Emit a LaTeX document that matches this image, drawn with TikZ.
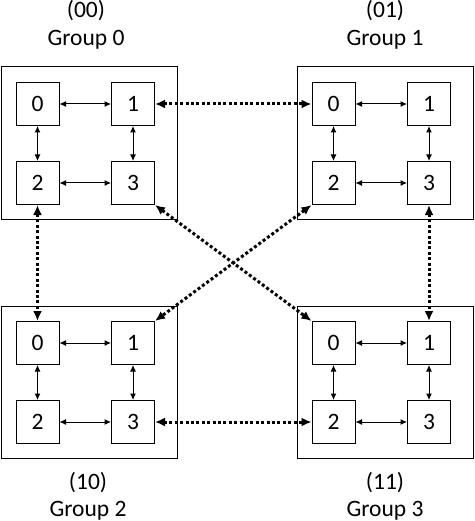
\documentclass[tikz,border=0pt]{standalone}
\usepackage{fontspec}
\setmainfont{Carlito}
\usetikzlibrary{arrows.meta}
\begin{document}
\begin{tikzpicture}[x=1pt,y=-1pt,
  nd/.style={draw, line width=1pt, minimum size=43pt, inner sep=0pt, font=\fontsize{23.5}{27}\selectfont},
  grp/.style={draw, line width=1pt, minimum width=176pt, minimum height=152pt, inner sep=0pt},
  lbl/.style={anchor=base, inner sep=0pt, font=\fontsize{23.5}{27}\selectfont},
  link/.style={{Latex[length=6.5pt,width=6pt]}-{Latex[length=6.5pt,width=6pt]}, line width=1pt},
  dlink/.style={{Latex[length=10pt,width=9pt]}-{Latex[length=10pt,width=9pt]}, line width=3pt, dash pattern=on 3pt off 2.4pt}]
\useasboundingbox (0,0) rectangle (474,521);
\foreach \g/\dx/\dy in {0/0/0,1/296/0,2/0/239,3/296/239}{
  \node[grp] (G\g) at (89+\dx,143+\dy) {};
  \node[nd] (g\g n0) at (37.5+\dx,104+\dy) {0};
  \node[nd] (g\g n1) at (133+\dx,104+\dy) {1};
  \node[nd] (g\g n2) at (37.5+\dx,183+\dy) {2};
  \node[nd] (g\g n3) at (133+\dx,183+\dy) {3};
  \draw[link] (g\g n0) -- (g\g n1);
  \draw[link] (g\g n2) -- (g\g n3);
  \draw[link] (g\g n0) -- (g\g n2);
  \draw[link] (g\g n1) -- (g\g n3);
}
\node[lbl] (l0a) at (86,18) {(00)};
\node[lbl] (l0b) at (86,46) {Group 0};
\node[lbl] (l1a) at (385,18) {(01)};
\node[lbl] (l1b) at (385,46) {Group 1};
\node[lbl] (l2a) at (88,489) {(10)};
\node[lbl] (l2b) at (88,516) {Group 2};
\node[lbl] (l3a) at (385,489) {(11)};
\node[lbl] (l3b) at (385,516) {Group 3};
\draw[dlink] (g0n1) -- (g1n0);
\draw[dlink] (g2n3) -- (g3n2);
\draw[dlink] (g0n2) -- (g2n0);
\draw[dlink] (g1n3) -- (g3n1);
\draw[dlink] (g0n3.south east) -- (g3n0.north west);
\draw[dlink] (g1n2.south west) -- (g2n1.north east);
\end{tikzpicture}
\end{document}
